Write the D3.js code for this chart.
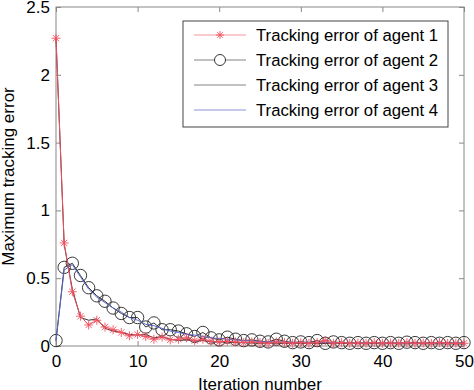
<!DOCTYPE html>
<html>
<head>
<meta charset="utf-8">
<script src="https://cdn.jsdelivr.net/npm/d3@7"></script>
<style>
  body { margin: 0; background: #fff; }
  svg text { font-family: "Liberation Sans", Arial, sans-serif; fill: #000; }
</style>
</head>
<body>
<svg id="chart" width="474" height="390"></svg>
<script>
// iteration index 0..50
var iterations = d3.range(0, 51);

var agent1 = [2.27, 0.76, 0.40, 0.22, 0.155, 0.19, 0.14, 0.12, 0.10, 0.075,
    0.085, 0.07, 0.05, 0.065, 0.045, 0.05, 0.06, 0.04, 0.05, 0.035,
    0.03, 0.035, 0.03, 0.025, 0.03, 0.025, 0.02, 0.03, 0.025, 0.02,
    0.025, 0.02, 0.025, 0.04, 0.02, 0.025, 0.02, 0.022, 0.02, 0.025,
    0.02, 0.022, 0.02, 0.025, 0.02, 0.022, 0.02, 0.025, 0.02, 0.02, 0.02];

var agent2 = [0.04, 0.58, 0.61, 0.52, 0.43, 0.37, 0.33, 0.28, 0.24, 0.21,
    0.21, 0.14, 0.17, 0.12, 0.12, 0.11, 0.09, 0.07, 0.10, 0.06,
    0.045, 0.065, 0.05, 0.04, 0.045, 0.035, 0.03, 0.05, 0.035, 0.025,
    0.03, 0.025, 0.04, 0.02, 0.03, 0.025, 0.02, 0.025, 0.02, 0.025,
    0.02, 0.025, 0.02, 0.028, 0.025, 0.02, 0.025, 0.02, 0.025, 0.02, 0.025];

var agent3 = [2.27, 0.75, 0.42, 0.21, 0.19, 0.20, 0.13, 0.11, 0.10, 0.085,
    0.08, 0.085, 0.06, 0.07, 0.05, 0.04, 0.045, 0.035, 0.04, 0.03,
    0.03, 0.028, 0.025, 0.025, 0.022, 0.02, 0.022, 0.02, 0.02, 0.018,
    0.02, 0.018, 0.02, 0.018, 0.018, 0.02, 0.018, 0.018, 0.016, 0.018,
    0.016, 0.018, 0.016, 0.016, 0.018, 0.016, 0.016, 0.015, 0.016, 0.015, 0.015];

var agent4 = [0.04, 0.56, 0.60, 0.51, 0.42, 0.36, 0.32, 0.28, 0.25, 0.21,
    0.19, 0.16, 0.15, 0.13, 0.11, 0.10, 0.085, 0.08, 0.07, 0.06,
    0.055, 0.05, 0.045, 0.04, 0.038, 0.035, 0.032, 0.03, 0.03, 0.028,
    0.028, 0.027, 0.026, 0.026, 0.025, 0.025, 0.025, 0.024, 0.024, 0.024,
    0.023, 0.023, 0.023, 0.023, 0.022, 0.022, 0.022, 0.022, 0.022, 0.022, 0.022];

var xTicks = [0, 10, 20, 30, 40, 50];
var yTicks = [0, 0.5, 1, 1.5, 2, 2.5];
var legendLabels = ["Tracking error of agent 1", "Tracking error of agent 2",
    "Tracking error of agent 3", "Tracking error of agent 4"];

var svg = d3.select("#chart");
var plotL = 56, plotR = 464, plotT = 7, plotB = 346;

var x = d3.scaleLinear().domain([0, 50]).range([plotL, plotR]);
var y = d3.scaleLinear().domain([0, 2.5]).range([plotB, plotT]);

var axisColor = "#888";

// axes with inward ticks, box style
function styleAxis(g) {
    g.select(".domain").remove();
    g.selectAll(".tick line").attr("stroke", axisColor);
    g.selectAll(".tick text").style("font-size", "17px");
}

svg.append("g")
    .attr("transform", "translate(0," + plotB + ")")
    .call(d3.axisBottom(x).tickValues(xTicks).tickFormat(d3.format("d")).tickSizeInner(-5).tickSizeOuter(0).tickPadding(9))
    .call(styleAxis);
svg.append("g")
    .attr("transform", "translate(0," + plotT + ")")
    .call(d3.axisTop(x).tickValues(xTicks).tickFormat("").tickSizeInner(-5).tickSizeOuter(0))
    .call(styleAxis);
svg.append("g")
    .attr("transform", "translate(" + plotL + ",0)")
    .call(d3.axisLeft(y).tickValues(yTicks).tickFormat(d3.format("")).tickSizeInner(-5).tickSizeOuter(0).tickPadding(6))
    .call(styleAxis);
svg.append("g")
    .attr("transform", "translate(" + plotR + ",0)")
    .call(d3.axisRight(y).tickValues(yTicks).tickFormat("").tickSizeInner(-5).tickSizeOuter(0))
    .call(styleAxis);

svg.append("rect")
    .attr("x", plotL).attr("y", plotT)
    .attr("width", plotR - plotL).attr("height", plotB - plotT)
    .attr("fill", "none").attr("stroke", axisColor).attr("stroke-width", 1);

var line = d3.line()
    .x(function(d, i) { return x(iterations[i]); })
    .y(function(d) { return y(d); });

var red = "#f0505f", black = "#333", blue = "#5a68c8";

var plot = svg.append("g");

function starPath(s) {
    return "M" + (-s) + ",0L" + s + ",0M0," + (-s) + "L0," + s +
        "M" + (-s * 0.7) + "," + (-s * 0.7) + "L" + (s * 0.7) + "," + (s * 0.7) +
        "M" + (-s * 0.7) + "," + (s * 0.7) + "L" + (s * 0.7) + "," + (-s * 0.7);
}

// agent 2 (circles)
plot.append("path").attr("d", line(agent2)).attr("fill", "none").attr("stroke", black).attr("stroke-width", 1);
plot.selectAll(".circ").data(agent2).enter().append("circle")
    .attr("cx", function(d, i) { return x(iterations[i]); })
    .attr("cy", function(d) { return y(d); })
    .attr("r", 6.2)
    .attr("fill", "none").attr("stroke", "#222").attr("stroke-width", 0.9);

// agent 3
plot.append("path").attr("d", line(agent3)).attr("fill", "none").attr("stroke", black).attr("stroke-width", 1);
// agent 4
plot.append("path").attr("d", line(agent4)).attr("fill", "none").attr("stroke", blue).attr("stroke-width", 1);
// agent 1 (stars)
plot.append("path").attr("d", line(agent1)).attr("fill", "none").attr("stroke", red).attr("stroke-width", 1);
plot.selectAll(".star").data(agent1).enter().append("path")
    .attr("transform", function(d, i) { return "translate(" + x(iterations[i]) + "," + y(d) + ")"; })
    .attr("d", starPath(4.5))
    .attr("fill", "none").attr("stroke", red).attr("stroke-width", 0.9);

// legend
var lg = svg.append("g");
lg.append("rect").attr("x", 183).attr("y", 21).attr("width", 265).attr("height", 106)
    .attr("fill", "#fff").attr("stroke", "#444").attr("stroke-width", 1);
var legendColors = [red, black, black, blue];
legendLabels.forEach(function(lab, i) {
    var ly = 35 + i * 25;
    lg.append("line").attr("x1", 194).attr("x2", 246).attr("y1", ly).attr("y2", ly)
        .attr("stroke", legendColors[i]).attr("stroke-width", 1).attr("opacity", i === 3 ? 0.7 : 0.6);
    if (i === 0) {
        lg.append("path").attr("transform", "translate(220," + ly + ")").attr("d", starPath(4))
            .attr("fill", "none").attr("stroke", red).attr("stroke-width", 0.9);
    }
    if (i === 1) {
        lg.append("circle").attr("cx", 220).attr("cy", ly).attr("r", 5.5)
            .attr("fill", "#fff").attr("stroke", "#222").attr("stroke-width", 0.9);
    }
    lg.append("text").attr("x", 256).attr("y", ly + 6).style("font-size", "16.7px").text(lab);
});

// axis labels
svg.append("text")
    .attr("x", (plotL + plotR) / 2).attr("y", 390)
    .attr("text-anchor", "middle").style("font-size", "17px")
    .text("Iteration number");
svg.append("text")
    .attr("transform", "translate(14," + ((plotT + plotB) / 2) + ") rotate(-90)")
    .attr("text-anchor", "middle").style("font-size", "17px")
    .text("Maximum tracking error");
</script>
</body>
</html>
